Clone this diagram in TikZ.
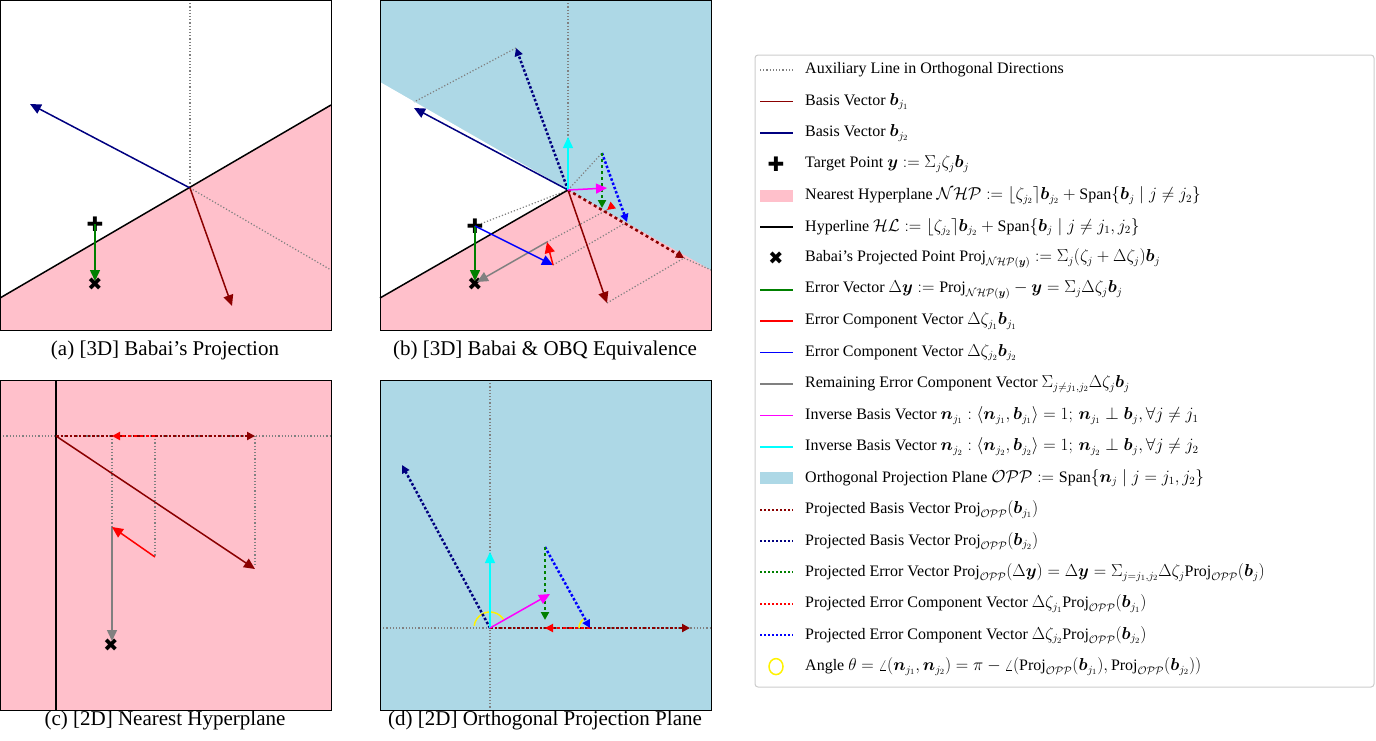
\documentclass[tikz,border=0pt]{standalone}
\usepackage{fontspec}
\setmainfont{Liberation Serif}
\newfontfamily\djv{DejaVu Sans}
\usepackage{amsmath,bm}
\usetikzlibrary{arrows.meta}
\definecolor{pinkf}{HTML}{FFC0CB}
\definecolor{bluef}{HTML}{ADD8E6}
\definecolor{dred}{HTML}{8B0000}
\definecolor{dnavy}{HTML}{000080}
\definecolor{mgreen}{HTML}{008000}
\definecolor{mmag}{HTML}{FF00FF}
\definecolor{mcyan}{HTML}{00FFFF}
\newcommand\Proj{\mathrm{Proj}}
\newcommand\OPP{\mathcal{OPP}}
\newcommand\NHP{\mathcal{NHP}}
\tikzset{
  vec/.style={line width=1.5pt,-{Triangle[length=11pt,width=10pt]}},
  aux/.style={gray,line width=1.2pt,dotted},
  pdot/.style={line width=2.5pt,dotted,-{Triangle[length=8pt,width=8pt]}},
  pdash/.style={line width=2.5pt,dashed,-{Triangle[length=8pt,width=8pt]}},
  panel/.style={draw=black,line width=1pt},
  captext/.style={font=\fontsize{21}{24}\selectfont},
  plusm/.style={font=\djv\fontsize{20}{20}\selectfont,inner sep=0pt},
  xm/.style={font=\djv\fontsize{18}{18}\selectfont,inner sep=0pt},
  leg/.style={anchor=west,font=\fontsize{16}{18}\selectfont,inner sep=0pt},
  lsnone/.style={draw=none},
  lsdred/.style={dred,line width=1.5pt},
  lsnavy/.style={dnavy,line width=1.5pt},
  lsblack/.style={black,line width=1.5pt},
  lsgreen/.style={mgreen,line width=1.5pt},
  lsred/.style={red,line width=1.5pt},
  lsblue/.style={blue,line width=1.5pt},
  lsgray/.style={gray,line width=1.5pt},
  lsmag/.style={mmag,line width=1.5pt},
  lscyan/.style={mcyan,line width=1.5pt},
  ldred/.style={dred,line width=2pt,dotted},
  ldnavy/.style={dnavy,line width=2pt,dotted},
  ldgreen/.style={mgreen,line width=2pt,dotted},
  ldred2/.style={red,line width=2pt,dotted},
  ldblue/.style={blue,line width=2pt,dotted},
}
\begin{document}
\begin{tikzpicture}[x=1pt,y=-1pt]
\useasboundingbox (0,0) rectangle (1376,740);
% ---------- panel (a)
\fill[pinkf] (0,298) -- (331,105) -- (331,330) -- (0,330) -- cycle;
\coordinate (aO) at (190,188);
\coordinate (aTop) at (190,0);
\coordinate (aB2) at (30,104);
\coordinate (aB1) at (232,306);
\coordinate (aR) at (331,270);
\coordinate (aL) at (0,298);
\coordinate (aRt) at (331,105);
\draw[aux] (aTop) -- (aO);
\draw[aux] (aO) -- (aR);
\draw[black,line width=1.5pt] (aL) -- (aRt);
\draw[vec,dnavy] (aO) -- (aB2);
\draw[vec,dred] (aO) -- (aB1);
\node[plusm] (aY) at (95,224) {✚};
\node[xm] (aP) at (95,284) {✖};
\draw[vec,mgreen] (aY.center) -- (95,281);
\draw[panel] (0,0) rectangle (331,330);
\node[captext] (capa) at (165,350) {(a) [3D] Babai's Projection};
% ---------- panel (b)
\fill[bluef] (380,0) rectangle (711,330);
\fill[white] (380,82) -- (568,190) -- (380,298) -- cycle;
\fill[pinkf] (380,298) -- (568,190) -- (711,270) -- (711,330) -- (380,330) -- cycle;
\coordinate (bO) at (568,190);
\coordinate (bTop) at (568,0);
\coordinate (bB2) at (414,108);
\coordinate (bB1) at (607,303);
\coordinate (bPB2) at (516,48);
\coordinate (bPB1) at (684,258);
\coordinate (bG) at (602,153);
\coordinate (bG2) at (602,208);
\coordinate (bE2) at (627,222);
\coordinate (bE1) at (607,210);
\coordinate (bY) at (475,226);
\coordinate (bBl) at (553,265);
\coordinate (bRd) at (547,242);
\coordinate (bX) at (477,282);
\draw[aux] (bTop) -- (bO);
\draw[aux] (bPB2) -- (414,102);
\draw[aux] (bO) -- (bG);
\draw[aux] (bY) -- (bO);
\draw[aux] (bRd) -- (bE1);
\draw[aux] (bBl) -- (bE2);
\draw[aux] (bB1) -- (bPB1);
\draw[aux] (bPB1) -- (711,270);
\draw[black,line width=1.5pt] (380,298) -- (bO);
\draw[vec,dnavy] (bO) -- (bB2);
\draw[vec,dred] (bO) -- (bB1);
\draw[pdot,dnavy] (bO) -- (bPB2);
\draw[pdash,dred] (bO) -- (bPB1);
\draw[pdot,blue] (bG) -- (bE2);
\draw[pdash,mgreen] (bG) -- (bG2);
\draw[pdash,red] (612,206) -- (bE1);
\draw[vec,mcyan] (bO) -- (568,137);
\draw[vec,mmag] (bO) -- (607,188);
\node[plusm] (bYm) at (bY) {✚};
\node[xm] (bXm) at (475,284) {✖};
\draw[vec,gray] (bRd) -- (bX);
\draw[vec,mgreen] (bY) -- (475,281);
\draw[vec,blue] (bY) -- (bBl);
\draw[vec,red] (bBl) -- (bRd);
\draw[panel] (380,0) rectangle (711,330);
\node[captext] (capb) at (545,350) {(b) [3D] Babai \& OBQ Equivalence};
% ---------- panel (c)
\fill[pinkf] (0,380) rectangle (331,710);
\coordinate (cO) at (56,436);
\coordinate (cB1) at (255,569);
\coordinate (cP1) at (255,436);
\coordinate (cE1) at (112,436);
\coordinate (cE2) at (155,436);
\coordinate (cR0) at (155,557);
\coordinate (cR1) at (112,527);
\coordinate (cX) at (112,645);
\draw[aux] (0,436) -- (331,436);
\draw[aux] (cE1) -- (cR1);
\draw[aux] (cE2) -- (cR0);
\draw[aux] (cP1) -- (255,565);
\draw[black,line width=1.5pt] (56,380) -- (56,710);
\draw[pdot,dred] (cO) -- (cP1);
\draw[pdash,red] (cE2) -- (cE1);
\draw[vec,dred] (cO) -- (cB1);
\node[xm] (cXm) at (111,645) {✖};
\draw[vec,gray] (cR1) -- (112,641);
\draw[vec,red] (cR0) -- (cR1);
\draw[panel] (0,380) rectangle (331,710);
\node[captext] (capc) at (165,720) {(c) [2D] Nearest Hyperplane};
% ---------- panel (d)
\fill[bluef] (380,380) rectangle (711,710);
\coordinate (dO) at (490,628);
\coordinate (dB2) at (402,465);
\coordinate (dG) at (545,547);
\coordinate (dG2) at (545,620);
\coordinate (dE2) at (590,628);
\coordinate (dE1) at (545,628);
\coordinate (dB1) at (690,628);
\draw[aux] (490,380) -- (490,710);
\draw[aux] (380,628) -- (711,628);
\draw[yellow,line width=1.5pt] (dO) ++(-30:16) arc (-30:-172:16);
\draw[yellow,line width=1.5pt] (dE2) ++(-118:11) arc (-118:-180:11);
\draw[pdot,dred] (dO) -- (dB1);
\draw[pdash,red] (dE2) -- (dE1);
\draw[pdot,dnavy] (dO) -- (dB2);
\draw[pdot,blue] (dG) -- (dE2);
\draw[pdash,mgreen] (dG) -- (dG2);
\draw[vec,mcyan] (dO) -- (490,552);
\draw[vec,mmag] (dO) -- (550,594);
\draw[panel] (380,380) rectangle (711,710);
\node[captext] (capd) at (545,720) {(d) [2D] Orthogonal Projection Plane};
% ---------- legend
\draw[gray!40,line width=1pt,rounded corners=3pt] (755,55) rectangle (1374,687);
\foreach \i/\st/\txt in {
0/aux/{Auxiliary Line in Orthogonal Directions},
1/lsdred/{Basis Vector $\bm{b}_{j_1}$},
2/lsnavy/{Basis Vector $\bm{b}_{j_2}$},
3/lsnone/{Target Point $\bm{y}\mathrel{:=}\Sigma_j\zeta_j\bm{b}_j$},
4/lsnone/{Nearest Hyperplane $\NHP\mathrel{:=}\lfloor\zeta_{j_2}\rceil\bm{b}_{j_2}+\mathrm{Span}\{\bm{b}_j\mid j\neq j_2\}$},
5/lsblack/{Hyperline $\mathcal{HL}\mathrel{:=}\lfloor\zeta_{j_2}\rceil\bm{b}_{j_2}+\mathrm{Span}\{\bm{b}_j\mid j\neq j_1,j_2\}$},
6/lsnone/{Babai's Projected Point $\Proj_{\NHP(\bm{y})}\mathrel{:=}\Sigma_j(\zeta_j+\Delta\zeta_j)\bm{b}_j$},
7/lsgreen/{Error Vector $\Delta\bm{y}\mathrel{:=}\Proj_{\NHP(\bm{y})}-\bm{y}=\Sigma_j\Delta\zeta_j\bm{b}_j$},
8/lsred/{Error Component Vector $\Delta\zeta_{j_1}\bm{b}_{j_1}$},
9/lsblue/{Error Component Vector $\Delta\zeta_{j_2}\bm{b}_{j_2}$},
10/lsgray/{Remaining Error Component Vector $\Sigma_{j\neq j_1,j_2}\Delta\zeta_j\bm{b}_j$},
11/lsmag/{Inverse Basis Vector $\bm{n}_{j_1}:\langle\bm{n}_{j_1},\bm{b}_{j_1}\rangle=1;\,\bm{n}_{j_1}\perp\bm{b}_j,\forall j\neq j_1$},
12/lscyan/{Inverse Basis Vector $\bm{n}_{j_2}:\langle\bm{n}_{j_2},\bm{b}_{j_2}\rangle=1;\,\bm{n}_{j_2}\perp\bm{b}_j,\forall j\neq j_2$},
13/lsnone/{Orthogonal Projection Plane $\OPP\mathrel{:=}\mathrm{Span}\{\bm{n}_j\mid j=j_1,j_2\}$},
14/ldred/{Projected Basis Vector $\Proj_{\OPP}(\bm{b}_{j_1})$},
15/ldnavy/{Projected Basis Vector $\Proj_{\OPP}(\bm{b}_{j_2})$},
16/ldgreen/{Projected Error Vector $\Proj_{\OPP}(\Delta\bm{y})=\Delta\bm{y}=\Sigma_{j=j_1,j_2}\Delta\zeta_j\Proj_{\OPP}(\bm{b}_j)$},
17/ldred2/{Projected Error Component Vector $\Delta\zeta_{j_1}\Proj_{\OPP}(\bm{b}_{j_1})$},
18/ldblue/{Projected Error Component Vector $\Delta\zeta_{j_2}\Proj_{\OPP}(\bm{b}_{j_2})$},
19/lsnone/{Angle $\theta=\angle(\bm{n}_{j_1},\bm{n}_{j_2})=\pi-\angle(\Proj_{\OPP}(\bm{b}_{j_1}),\Proj_{\OPP}(\bm{b}_{j_2}))$}}
{
  \pgfmathsetmacro\yy{70+31.4*\i}
  \draw[\st] (760,\yy) -- (793,\yy);
  \node[leg] (lt\i) at (805,\yy) {\txt};
}
\pgfmathsetmacro\yy{70+31.4*3}
\node[plusm] (lm3) at (776,\yy) {✚};
\pgfmathsetmacro\yy{70+31.4*4}
\fill[pinkf] (760,\yy-6) rectangle (793,\yy+6);
\pgfmathsetmacro\yy{70+31.4*6}
\node[xm] (lm6) at (776,\yy) {✖};
\pgfmathsetmacro\yy{70+31.4*13}
\fill[bluef] (760,\yy-6) rectangle (793,\yy+6);
\pgfmathsetmacro\yy{70+31.4*19}
\draw[yellow,line width=1.5pt] (776,\yy) ellipse (7pt and 8pt);
\end{tikzpicture}
\end{document}
